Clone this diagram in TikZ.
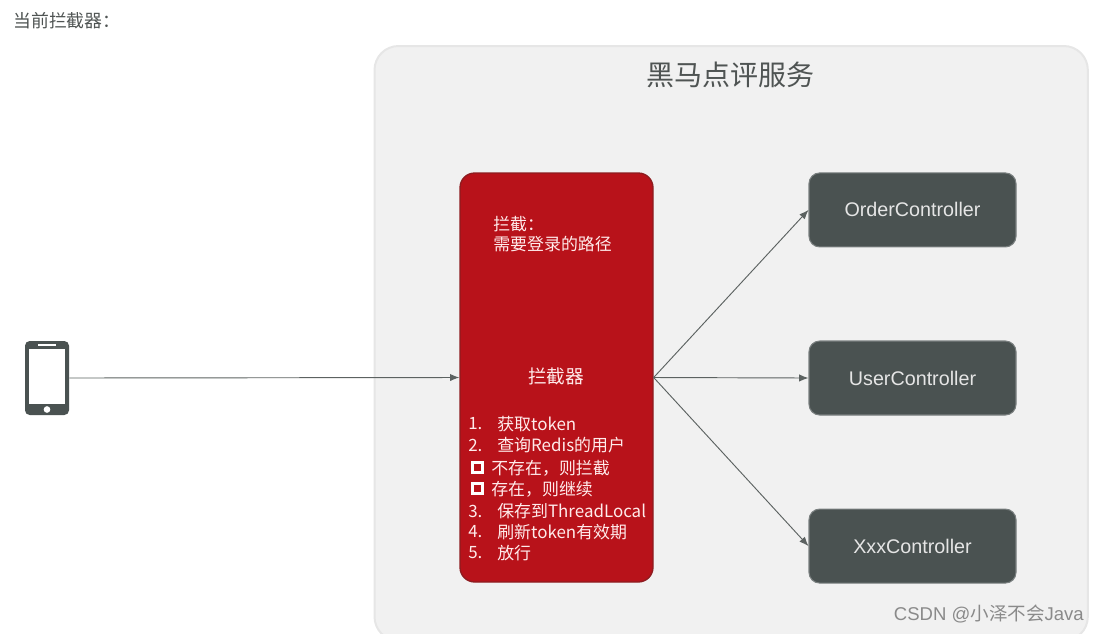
\documentclass[tikz,border=0pt]{standalone}
\usepackage{fontspec}
\setmainfont{Liberation Sans}
\newfontfamily\cjk{Noto Sans CJK SC}
\usetikzlibrary{arrows.meta,positioning}
\definecolor{panelgray}{HTML}{F1F1F1}
\definecolor{paneledge}{HTML}{E6E6E6}
\definecolor{slatedark}{HTML}{4A5251}
\definecolor{slateedge}{HTML}{7A8080}
\definecolor{interred}{HTML}{B8121A}
\definecolor{rededge}{HTML}{8E1C20}
\definecolor{linegray}{HTML}{5C6261}
\definecolor{titlegray}{HTML}{4F5453}
\definecolor{notegray}{HTML}{8A8A8A}

\begin{document}
\begin{tikzpicture}[
  x=0.75pt, y=-0.75pt,
  node distance=69.75pt,
  panel/.style={rectangle, rounded corners=18pt, draw=paneledge, fill=panelgray, line width=1.5pt, minimum width=535pt, minimum height=446pt, anchor=north west},
  redbox/.style={rectangle, rounded corners=11pt, draw=rededge, fill=interred, line width=1pt, minimum width=144.75pt, minimum height=306.75pt},
  ctrlbox/.style={rectangle, rounded corners=8pt, draw=slateedge, fill=slatedark, line width=0.8pt, text=white!90!black, minimum width=155.25pt, minimum height=55.5pt, font=\fontsize{14.8}{18}\selectfont},
  redtext/.style={text=white!92!red, inner sep=0pt, anchor=west, font=\cjk\fontsize{12.7}{15}\selectfont},
  tick/.style={rectangle, draw=white, line width=1.6pt, fill=none, inner sep=0pt, minimum size=7.5pt},
  arrow/.style={-{Latex[length=7pt,width=5.5pt]}, draw=linegray, line width=0.7pt}
]
\useasboundingbox (0,0) rectangle (1098,633);

\node[inner sep=0pt, anchor=west, text=titlegray, font=\cjk\fontsize{13.4}{16}\selectfont] (heading) at (13,21) {当前拦截器：};

\node[panel] (service) at (373.5,45) {};
\node[inner sep=0pt, text=titlegray, font=\cjk\fontsize{21}{25}\selectfont] (servicetitle) at (730.5,75) {黑马点评服务};

% phone
\node[rectangle, rounded corners=3.5pt, fill=slatedark, minimum width=33pt, minimum height=55.5pt, inner sep=0pt] (phone) at (47,378) {};
\node[rectangle, fill=white, minimum width=27.5pt, minimum height=41pt, inner sep=0pt] (screen) at (47,376.5) {};
\node[circle, fill=white, minimum size=5pt, inner sep=0pt] (homebtn) at (47,409.5) {};
\node[rectangle, fill=white, minimum width=13pt, minimum height=1.2pt, inner sep=0pt] (speaker) at (47,345) {};

% interceptor
\node[redbox] (interceptor) at (556.5,377.5) {};
\node[redtext] (rule1) at (493,224) {拦截：};
\node[redtext] (rule2) at (493,244) {需要登录的路径};
\node[redtext, anchor=center, font=\cjk\fontsize{14}{16}\selectfont] (intertitle) at (556,376) {拦截器};
\node[redtext] (n1) at (468,424) {1.};
\node[redtext] (s1) at (497,424) {获取token};
\node[redtext] (n2) at (468,445) {2.};
\node[redtext] (s2) at (497,445) {查询Redis的用户};
\node[tick] (tick1) at (477.5,467.5) {};
\node[redtext] (sub1) at (491,468) {不存在，则拦截};
\node[tick] (tick2) at (477.5,488.5) {};
\node[redtext] (sub2) at (491,489) {存在，则继续};
\node[redtext] (n3) at (468,511) {3.};
\node[redtext] (s3) at (497,511) {保存到ThreadLocal};
\node[redtext] (n4) at (468,532) {4.};
\node[redtext] (s4) at (497,532) {刷新token有效期};
\node[redtext] (n5) at (468,553) {5.};
\node[redtext] (s5) at (497,553) {放行};

% controllers
\node[ctrlbox] (user) at (912.5,378) {UserController};
\node[ctrlbox, above=of user] (order) {OrderController};
\node[ctrlbox, below=of user] (xxx) {XxxController};

\node[inner sep=0pt, anchor=east, text=notegray, font=\fontsize{13.9}{16}\selectfont] (mark) at (1084,614) {CSDN @{\cjk 小泽不会}Java};

\draw[arrow] (phone.east) -- (interceptor.west);
\draw[arrow] (interceptor.east) -- (order.west);
\draw[arrow] (interceptor.east) -- (user.west);
\draw[arrow] (interceptor.east) -- (xxx.west);
\end{tikzpicture}
\end{document}
